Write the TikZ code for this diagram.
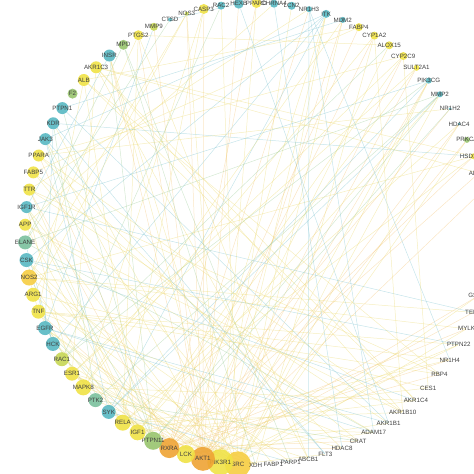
\documentclass[tikz,border=0pt]{standalone}
\usepackage{fontspec}
\setmainfont{Liberation Sans}
\usetikzlibrary{backgrounds}
\definecolor{gyellow}{RGB}{240,226,70}
\definecolor{ggold}{RGB}{246,205,65}
\definecolor{gorange}{RGB}{238,163,52}
\definecolor{gteal}{RGB}{88,184,194}
\definecolor{ggreen}{RGB}{152,196,110}
\definecolor{gsea}{RGB}{122,192,156}
\definecolor{glime}{RGB}{198,214,84}
\definecolor{lyellow}{RGB}{236,218,115}
\definecolor{lorange}{RGB}{243,192,110}
\definecolor{lblue}{RGB}{128,196,210}
\definecolor{lgreen}{RGB}{160,206,156}
\tikzset{
  gene/.style={circle,inner sep=0pt,minimum size=#1,fill opacity=0.9},
  gy/.style={gene=#1,fill=gyellow},
  gd/.style={gene=#1,fill=ggold},
  go/.style={gene=#1,fill=gorange},
  gt/.style={gene=#1,fill=gteal},
  gg/.style={gene=#1,fill=ggreen},
  gs/.style={gene=#1,fill=gsea},
  gl/.style={gene=#1,fill=glime},
  gz/.style={gene=1pt},
  every label/.style={inner sep=0pt,text=black!75,text opacity=1,font=\fontsize{6.2}{7}\selectfont},
  ey/.style={draw=lyellow,line width=0.5pt,draw opacity=0.45},
  eo/.style={draw=lorange,line width=0.5pt,draw opacity=0.4},
  eb/.style={draw=lblue,line width=0.5pt,draw opacity=0.45},
  eg/.style={draw=lgreen,line width=0.5pt,draw opacity=0.45}
}
\begin{document}
\begin{tikzpicture}[x=1pt,y=1pt]
\useasboundingbox (0,0) rectangle (474,474);
\begin{scope}[shift={(256,240)}]
% hubs at the bottom
\node[gd=26pt,label=center:SRC] (SRC) at (265.5:231) {};
\node[gy=26pt,label=center:PIK3R1] (PIK3R1) at (261.11:231) {};
\node[go=24pt,label=center:AKT1] (AKT1) at (256.72:231) {};
\node[gy=18pt,label=center:LCK] (LCK) at (252.33:231) {};
\node[go=20pt,label=center:RXRA] (RXRA) at (247.94:231) {};
\node[gg=18pt,label=center:PTPN11] (PTPN11) at (243.55:231) {};
\node[gy=16pt,label=center:IGF1] (IGF1) at (239.16:231) {};
\node[gy=16pt,label=center:RELA] (RELA) at (234.77:231) {};
\node[gt=14pt,label=center:SYK] (SYK) at (230.38:231) {};
\node[gs=14pt,label=center:PTK2] (PTK2) at (225.99:231) {};
\node[gy=16pt,label=center:MAPK8] (MAPK8) at (221.6:231) {};
\node[gy=14pt,label=center:ESR1] (ESR1) at (217.21:231) {};
\node[gl=14pt,label=center:RAC1] (RAC1) at (212.82:231) {};
\node[gt=14pt,label=center:HCK] (HCK) at (208.43:231) {};
\node[gt=14pt,label=center:EGFR] (EGFR) at (204.04:231) {};
\node[gy=14pt,label=center:TNF] (TNF) at (199.65:231) {};
\node[gy=14pt,label=center:ARG1] (ARG1) at (195.26:231) {};
\node[gd=16pt,label=center:NOS2] (NOS2) at (190.87:231) {};
\node[gt=14pt,label=center:CSK] (CSK) at (186.48:231) {};
\node[gs=14pt,label=center:ELANE] (ELANE) at (182.09:231) {};
% left side
\node[gy=12pt,label=center:APP] (APP) at (177.7:231) {};
\node[gt=12pt,label=center:IGF1R] (IGF1R) at (173.31:231) {};
\node[gy=12pt,label=center:TTR] (TTR) at (168.92:231) {};
\node[gy=12pt,label=center:FABP5] (FABP5) at (164.53:231) {};
\node[gy=12pt,label=center:PPARA] (PPARA) at (160.14:231) {};
\node[gt=12pt,label=center:JAK3] (JAK3) at (155.75:231) {};
\node[gt=12pt,label=center:KDR] (KDR) at (151.36:231) {};
\node[gt=12pt,label=center:PTPN1] (PTPN1) at (146.97:231) {};
\node[gg=10pt,label=center:F2] (F2) at (142.58:231) {};
\node[gy=12pt,label=center:ALB] (ALB) at (138.19:231) {};
\node[gy=12pt,label=center:AKR1C3] (AKR1C3) at (133.8:231) {};
\node[gt=12pt,label=center:INSR] (INSR) at (129.41:231) {};
\node[gg=10pt,label=center:MPO] (MPO) at (125.02:231) {};
\node[gy=10pt,label=center:PTGS2] (PTGS2) at (120.63:231) {};
\node[gl=8pt,label=center:MMP9] (MMP9) at (116.24:231) {};
% top
\node[gt=4pt,label=center:CTSD] (CTSD) at (111.85:231) {};
\node[gl=4pt,label=center:NOS3] (NOS3) at (107.46:231) {};
\node[gy=10pt,label=center:CASP3] (CASP3) at (103.07:231) {};
\node[gt=8pt,label=center:RAC2] (RAC2) at (98.68:231) {};
\node[gt=10pt,label=center:HEXB] (HEXB) at (94.29:231) {};
\node[gy=10pt,label=center:PPARD] (PPARD) at (89.9:231) {};
\node[gt=8pt,label=center:CHRNA4] (CHRNA4) at (85.51:231) {};
\node[gt=8pt,label=center:LCN2] (LCN2) at (81.12:231) {};
\node[gt=6pt,label=center:NR1H3] (NR1H3) at (76.73:231) {};
\node[gt=8pt,label=center:ITK] (ITK) at (72.34:231) {};
\node[gt=6pt,label=center:MDM2] (MDM2) at (67.95:231) {};
\node[gy=8pt,label=center:FABP4] (FABP4) at (63.56:231) {};
\node[gy=8pt,label=center:CYP1A2] (CYP1A2) at (59.17:231) {};
\node[gy=8pt,label=center:ALOX15] (ALOX15) at (54.78:231) {};
\node[gy=8pt,label=center:CYP2C9] (CYP2C9) at (50.39:231) {};
\node[gy=6pt,label=center:SULT2A1] (SULT2A1) at (46.0:231) {};
% right side
\node[gt=6pt,label=center:PIK3CG] (PIK3CG) at (41.61:231) {};
\node[gt=6pt,label=center:MMP2] (MMP2) at (37.22:231) {};
\node[gt=3pt,label=center:NR1H2] (NR1H2) at (32.83:231) {};
\node[gt=3pt,label=center:HDAC4] (HDAC4) at (28.44:231) {};
\node[gg=6pt,label=center:PRKCA] (PRKCA) at (24.05:231) {};
\node[gy=6pt,label=center:HSD11B1] (HSD11B1) at (19.66:231) {};
\node[gy=4pt,label=center:ALOX5] (ALOX5) at (15.27:231) {};
\node[gz,label=center:ACHE] (ACHE) at (10.88:231) {};
\node[gz,label=center:GSK3B] (GSK3B) at (-15.46:231) {};
\node[gz,label=center:TERT] (TERT) at (-19.85:231) {};
\node[gz,label=center:MYLK] (MYLK) at (-24.24:231) {};
\node[gz,label=center:PTPN22] (PTPN22) at (-28.63:231) {};
\node[gz,label=center:NR1H4] (NR1H4) at (-33.02:231) {};
\node[gz,label=center:RBP4] (RBP4) at (-37.41:231) {};
\node[gz,label=center:CES1] (CES1) at (-41.8:231) {};
\node[gz,label=center:AKR1C4] (AKR1C4) at (-46.19:231) {};
\node[gz,label=center:AKR1B10] (AKR1B10) at (-50.58:231) {};
\node[gz,label=center:AKR1B1] (AKR1B1) at (-54.97:231) {};
\node[gz,label=center:ADAM17] (ADAM17) at (-59.36:231) {};
\node[gz,label=center:CRAT] (CRAT) at (-63.75:231) {};
\node[gz,label=center:HDAC8] (HDAC8) at (-68.14:231) {};
\node[gz,label=center:FLT3] (FLT3) at (-72.53:231) {};
\node[gz,label=center:ABCB1] (ABCB1) at (-76.92:231) {};
\node[gz,label=center:PARP1] (PARP1) at (-81.31:231) {};
\node[gz,label=center:FABP1] (FABP1) at (-85.7:231) {};
\node[gz,label=center:XDH] (XDH) at (-90.09:231) {};
\end{scope}
% interactions, under the nodes
\begin{scope}[on background layer]
\path[ey] (SRC) edge (EGFR) edge (PTK2) edge (CSK) edge (KDR) edge (INSR) edge (ESR1) edge (ITK) edge (MDM2) edge (PRKCA) edge (FLT3) edge (RAC2) edge (MMP2) edge (HDAC4) edge (PIK3CG) edge (MYLK) edge (GSK3B);
\path[ey] (PIK3R1) edge (EGFR) edge (IGF1R) edge (INSR) edge (SYK) edge (ITK) edge (HCK) edge (JAK3) edge (PIK3CG) edge (RAC1) edge (PTPN22) edge (NOS3) edge (LCN2) edge (PPARD);
\path[eo] (AKT1) edge (MDM2) edge (PIK3CG) edge (TNF) edge (INSR) edge (NOS3) edge (CASP3) edge (ESR1) edge (PTGS2) edge (MMP9) edge (HDAC4) edge (GSK3B) edge (PRKCA) edge (TERT) edge (ACHE) edge (HEXB) edge (SULT2A1) edge (CYP2C9);
\path[eo] (RXRA) edge (PPARA) edge (PPARD) edge (NR1H3) edge (NR1H2) edge (NR1H4) edge (RBP4) edge (TTR) edge (FABP4) edge (ESR1) edge (HDAC8) edge (CRAT) edge (CYP1A2) edge (ALOX5) edge (HSD11B1) edge (MYLK);
\path[ey] (LCK) edge (ITK) edge (SYK) edge (CSK) edge (PTPN22) edge (ALOX15) edge (ADAM17) edge (AKR1B1);
\path[eg] (PTPN11) edge (EGFR) edge (INSR) edge (IGF1R) edge (JAK3) edge (PTPN1) edge (MMP2) edge (NR1H2);
\path[ey] (IGF1) edge (IGF1R) edge (ALB) edge (APP) edge (MMP2) edge (TTR) edge (CYP2C9) edge (SULT2A1) edge (AKR1C4) edge (NR1H4);
\path[ey] (RELA) edge (TNF) edge (NOS2) edge (PTGS2) edge (HDAC4) edge (CASP3) edge (ADAM17) edge (XDH) edge (CES1) edge (AKR1B10) edge (HSD11B1);
\path[eb] (SYK) edge (JAK3) edge (ITK) edge (PIK3CG) edge (MMP2) edge (PARP1);
\path[eg] (PTK2) edge (EGFR) edge (KDR) edge (MMP2) edge (CRAT);
\path[ey] (MAPK8) edge (TNF) edge (CASP3) edge (MDM2) edge (CYP1A2) edge (ABCB1) edge (AKR1C4);
\path[ey] (ESR1) edge (IGF1R) edge (HDAC8) edge (CYP2C9) edge (SULT2A1) edge (AKR1C3) edge (XDH);
\path[eg] (RAC1) edge (RAC2) edge (PIK3CG) edge (ALOX15);
\path[eb] (HCK) edge (CSK) edge (ELANE) edge (ITK);
\path[eb] (EGFR) edge (KDR) edge (MMP9) edge (AKR1B1) edge (ADAM17);
\path[ey] (TNF) edge (NOS2) edge (ALB) edge (NR1H4) edge (RBP4) edge (CRAT) edge (PTPN22);
\path[ey] (ARG1) edge (NOS3) edge (XDH) edge (CES1);
\path[ey] (NOS2) edge (NOS3) edge (PTGS2) edge (PARP1) edge (HSD11B1) edge (MYLK) edge (TERT);
\path[eb] (CSK) edge (ITK) edge (PTPN22) edge (AKR1C4);
\path[eg] (ELANE) edge (MPO) edge (CTSD) edge (MMP2) edge (ADAM17);
\path[ey] (APP) edge (ADAM17) edge (CHRNA4) edge (AKR1B10);
\path[eb] (IGF1R) edge (INSR) edge (PIK3CG) edge (TERT);
\path[ey] (TTR) edge (RBP4) edge (AKR1B1) edge (NR1H3);
\path[ey] (FABP5) edge (FABP4) edge (FABP1) edge (CRAT);
\path[ey] (PPARA) edge (NR1H2) edge (CYP2C9) edge (AKR1B10) edge (HDAC8);
\path[eb] (JAK3) edge (ITK) edge (FLT3);
\path[eb] (KDR) edge (FLT3) edge (HSD11B1);
\path[eb] (PTPN1) edge (MDM2) edge (AKR1B1);
\path[ey] (ALB) edge (FABP4) edge (RBP4) edge (AKR1C4);
\path[ey] (AKR1C3) edge (AKR1C4) edge (AKR1B10) edge (HSD11B1) edge (ALOX5) edge (ABCB1);
\path[eg] (MPO) edge (XDH) edge (PARP1);
\path[ey] (PTGS2) edge (ALOX15) edge (ABCB1);
\path[eb] (HEXB) edge (CTSD) edge (AKR1B1);
\path[eb] (NR1H3) edge (NR1H4) edge (ABCB1) edge (ADAM17);
\path[ey] (CYP1A2) edge (XDH) edge (AKR1B10);
\path[ey] (CYP2C9) edge (CES1);
\path[eb] (CHRNA4) edge (HDAC8);
\end{scope}
\end{tikzpicture}
\end{document}
